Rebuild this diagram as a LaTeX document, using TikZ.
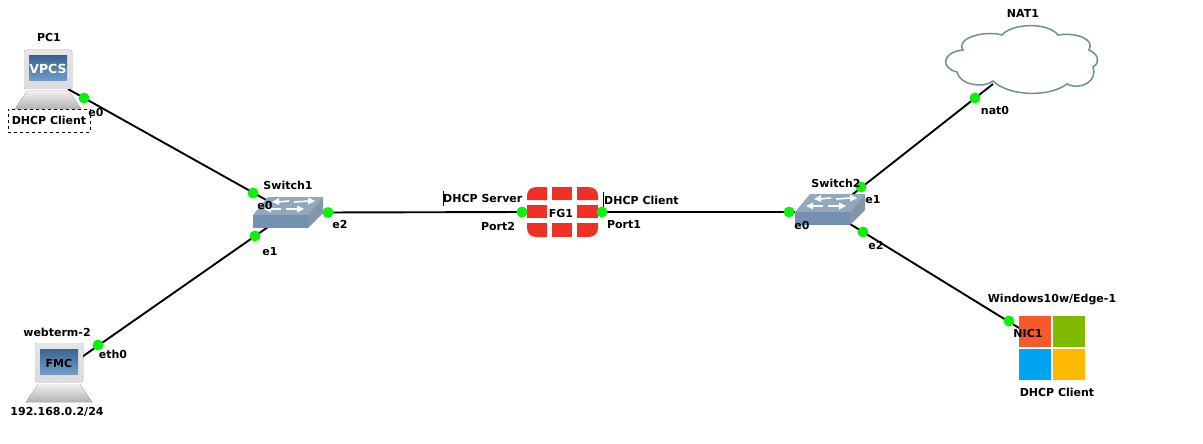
\documentclass[tikz,border=0pt]{standalone}
\usepackage{fontspec}
\setmainfont{DejaVu Sans}
\definecolor{swtop}{HTML}{93A8BF}
\definecolor{swfront}{HTML}{7391AF}
\definecolor{swside}{HTML}{8496A8}
\definecolor{fgred}{HTML}{EE3124}
\definecolor{cloudc}{HTML}{6F8F94}
\definecolor{scr}{HTML}{4F85BD}
\definecolor{portgreen}{HTML}{0CF00C}
\definecolor{winred}{HTML}{F65A2B}
\definecolor{wingreen}{HTML}{7FBA00}
\definecolor{winblue}{HTML}{00A4EF}
\definecolor{winyellow}{HTML}{FFB900}
\tikzset{
  lbl/.style={font=\bfseries\fontsize{11}{13}\selectfont, inner sep=0pt, text=black},
  link/.style={draw=black, line width=1.9pt},
  dot/.style={circle, fill=portgreen, draw=none, minimum size=11pt, inner sep=0pt},
  fgcell/.style={fill=fgred, draw=none},
  bar/.style={draw=black!80!blue, line width=0.9pt},
  swarrow/.style={draw=white, line width=1.6pt},
  swhead/.style={fill=white, draw=none},
}
\newcommand{\monitor}[2]{% x, y of the top centre
  \begin{scope}[shift={(#1,#2)}]
    \fill[rounded corners=2pt, top color=black!10, bottom color=black!14] (-24,-1) rectangle (24,38);
    \fill[top color=black!6, bottom color=black!30] (-21,40) -- (21,40) -- (33,58) -- (-33,58) -- cycle;
    \fill[top color=scr!75!black, bottom color=scr!80!white] (-19,5) rectangle (19,30);
  \end{scope}
}
\newcommand{\switchicon}[2]{% x, y of the top-left of the front face
  \begin{scope}[shift={(#1,#2)}]
    \fill[swtop] (0,0) -- (15,-18) -- (70,-18) -- (55,0) -- cycle;
    \fill[swfront] (0,0) rectangle (55,13);
    \fill[swside] (55,0) -- (70,-18) -- (70,-2) -- (55,13) -- cycle;
    \draw[swarrow] (24,-13) -- (36,-14);
    \fill[swhead] (19,-13) -- (26,-17) -- (26,-10) -- cycle;
    \draw[swarrow] (41,-13) -- (56,-14);
    \fill[swhead] (62,-14) -- (55,-17.5) -- (55,-10.5) -- cycle;
    \draw[swarrow] (16,-6) -- (28,-6);
    \fill[swhead] (11,-6) -- (18,-9.5) -- (18,-2.5) -- cycle;
    \draw[swarrow] (33,-6) -- (45,-6);
    \fill[swhead] (51,-6) -- (44,-9.5) -- (44,-2.5) -- cycle;
  \end{scope}
}
\begin{document}
\begin{tikzpicture}[x=1pt,y=-1pt]
\useasboundingbox (0,0) rectangle (1203,444);
\fill[white] (0,0) rectangle (1203,444);

% connector ends inside the devices
\coordinate (pcEnd) at (68,89);
\coordinate (fmcEnd) at (79,359);
\coordinate (sw1a) at (268,201);
\coordinate (sw1b) at (268,227);
\coordinate (sw1c) at (322,212.5);
\coordinate (fgL) at (527,212);
\coordinate (fgR) at (597,212);
\coordinate (sw2a) at (795,212);
\coordinate (sw2b) at (848,198);
\coordinate (sw2c) at (850,224);
\coordinate (cloudEnd) at (993,84);
\coordinate (winEnd) at (1019,328);

% connectors
\draw[link] (pcEnd) -- (sw1a);
\draw[link] (fmcEnd) -- (sw1b);
\draw[link] (sw1c) -- (fgL);
\draw[link] (fgR) -- (sw2a);
\draw[link] (sw2b) -- (cloudEnd);
\draw[link] (sw2c) -- (winEnd);

% PC1 and webterm
\monitor{48}{51}
\node[font=\bfseries\fontsize{12.5}{15}\selectfont, text=white, inner sep=0pt] (vpcs) at (48,69) {VPCS};
\monitor{59}{344}
\node[lbl] (fmc) at (59,363) {FMC};

% switches
\switchicon{253}{215}
\switchicon{795}{212}

% FortiGate
\begin{scope}
  \fill[fgcell] (527,200) -- (527,196) .. controls (527,190) and (531,187) .. (537,187) -- (547,187) -- (547,200) -- cycle;
  \fill[fgcell] (552,187) rectangle (572,200);
  \fill[fgcell] (577,187) -- (588,187) .. controls (594,187) and (598,190) .. (598,196) -- (598,200) -- (577,200) -- cycle;
  \fill[fgcell] (527,205) rectangle (547,218);
  \fill[fgcell] (577,205) rectangle (598,218);
  \fill[fgcell] (527,223) -- (547,223) -- (547,237) -- (537,237) .. controls (531,237) and (527,234) .. (527,228) -- cycle;
  \fill[fgcell] (552,223) rectangle (572,237);
  \fill[fgcell] (577,223) -- (598,223) -- (598,228) .. controls (598,234) and (594,237) .. (588,237) -- (577,237) -- cycle;
\end{scope}

% cloud
\draw[cloudc, line width=1.5pt, fill=white]
  (993,81) .. controls (1010,97) and (1050,97) .. (1067,84)
  .. controls (1082,91) and (1098,80) .. (1093,67)
  .. controls (1101,62) and (1098,54) .. (1089,50)
  .. controls (1095,40) and (1078,32) .. (1058,35)
  .. controls (1048,22) and (1012,23) .. (1002,35)
  .. controls (985,30) and (955,38) .. (963,50)
  .. controls (942,52) and (940,68) .. (957,72)
  .. controls (960,86) and (985,88) .. (993,81) -- cycle;

% Windows
\fill[winred] (1019,316) rectangle (1051,347);
\fill[wingreen] (1053,316) rectangle (1085,347);
\fill[winblue] (1019,349) rectangle (1051,380);
\fill[winyellow] (1053,349) rectangle (1085,380);

% dots
\node[dot] (d1) at (84,98) {};
\node[dot] (d2) at (253,193) {};
\node[dot] (d3) at (255,236) {};
\node[dot] (d4) at (98,345) {};
\node[dot] (d5) at (328,212.5) {};
\node[dot] (d6) at (522,212) {};
\node[dot] (d7) at (602,212) {};
\node[dot] (d8) at (789,212) {};
\node[dot] (d9) at (861,187) {};
\node[dot] (d10) at (863,232) {};
\node[dot] (d11) at (975,98) {};
\node[dot] (d12) at (1009,321) {};

% labels
\node[lbl] (pc1) at (49,37) {PC1};
\node[lbl] (e0a) at (96,112) {e0};
\node[lbl, draw=black, dashed, line width=0.7pt, minimum width=82pt, minimum height=23pt] (dc1) at (49,120.5) {DHCP Client};
\node[lbl] (s1) at (288,185) {Switch1};
\node[lbl] (e0b) at (265,205.5) {e0};
\node[lbl] (e2a) at (340,224) {e2};
\node[lbl] (e1a) at (270,252) {e1};
\node[lbl] (wt) at (57,332) {webterm-2};
\node[lbl] (eth) at (113,354) {eth0};
\node[lbl] (ip) at (57,412) {192.168.0.2/24};
\node[lbl, anchor=west] (ds) at (443,198) {DHCP Server};
\draw[bar] (443,191) -- (443,206);
\node[lbl] (p2) at (498,226) {Port2};
\node[lbl] (fg) at (561,213) {FG1};
\node[lbl] (p1) at (624,225) {Port1};
\node[lbl, anchor=west] (dc2) at (604,200) {DHCP Client};
\draw[bar] (603,192) -- (603,207);
\node[lbl] (s2) at (836,183) {Switch2};
\node[lbl] (e1b) at (873,200) {e1};
\node[lbl] (e0c) at (802,225) {e0};
\node[lbl] (e2b) at (876,245) {e2};
\node[lbl] (nat) at (1023,13) {NAT1};
\node[lbl] (nat0) at (995,110) {nat0};
\node[lbl] (win) at (1052,300) {Windows10w/Edge-1};
\node[lbl] (nic) at (1028,333) {NIC1};
\node[lbl] (dc3) at (1057,392) {DHCP Client};
\end{tikzpicture}
\end{document}
